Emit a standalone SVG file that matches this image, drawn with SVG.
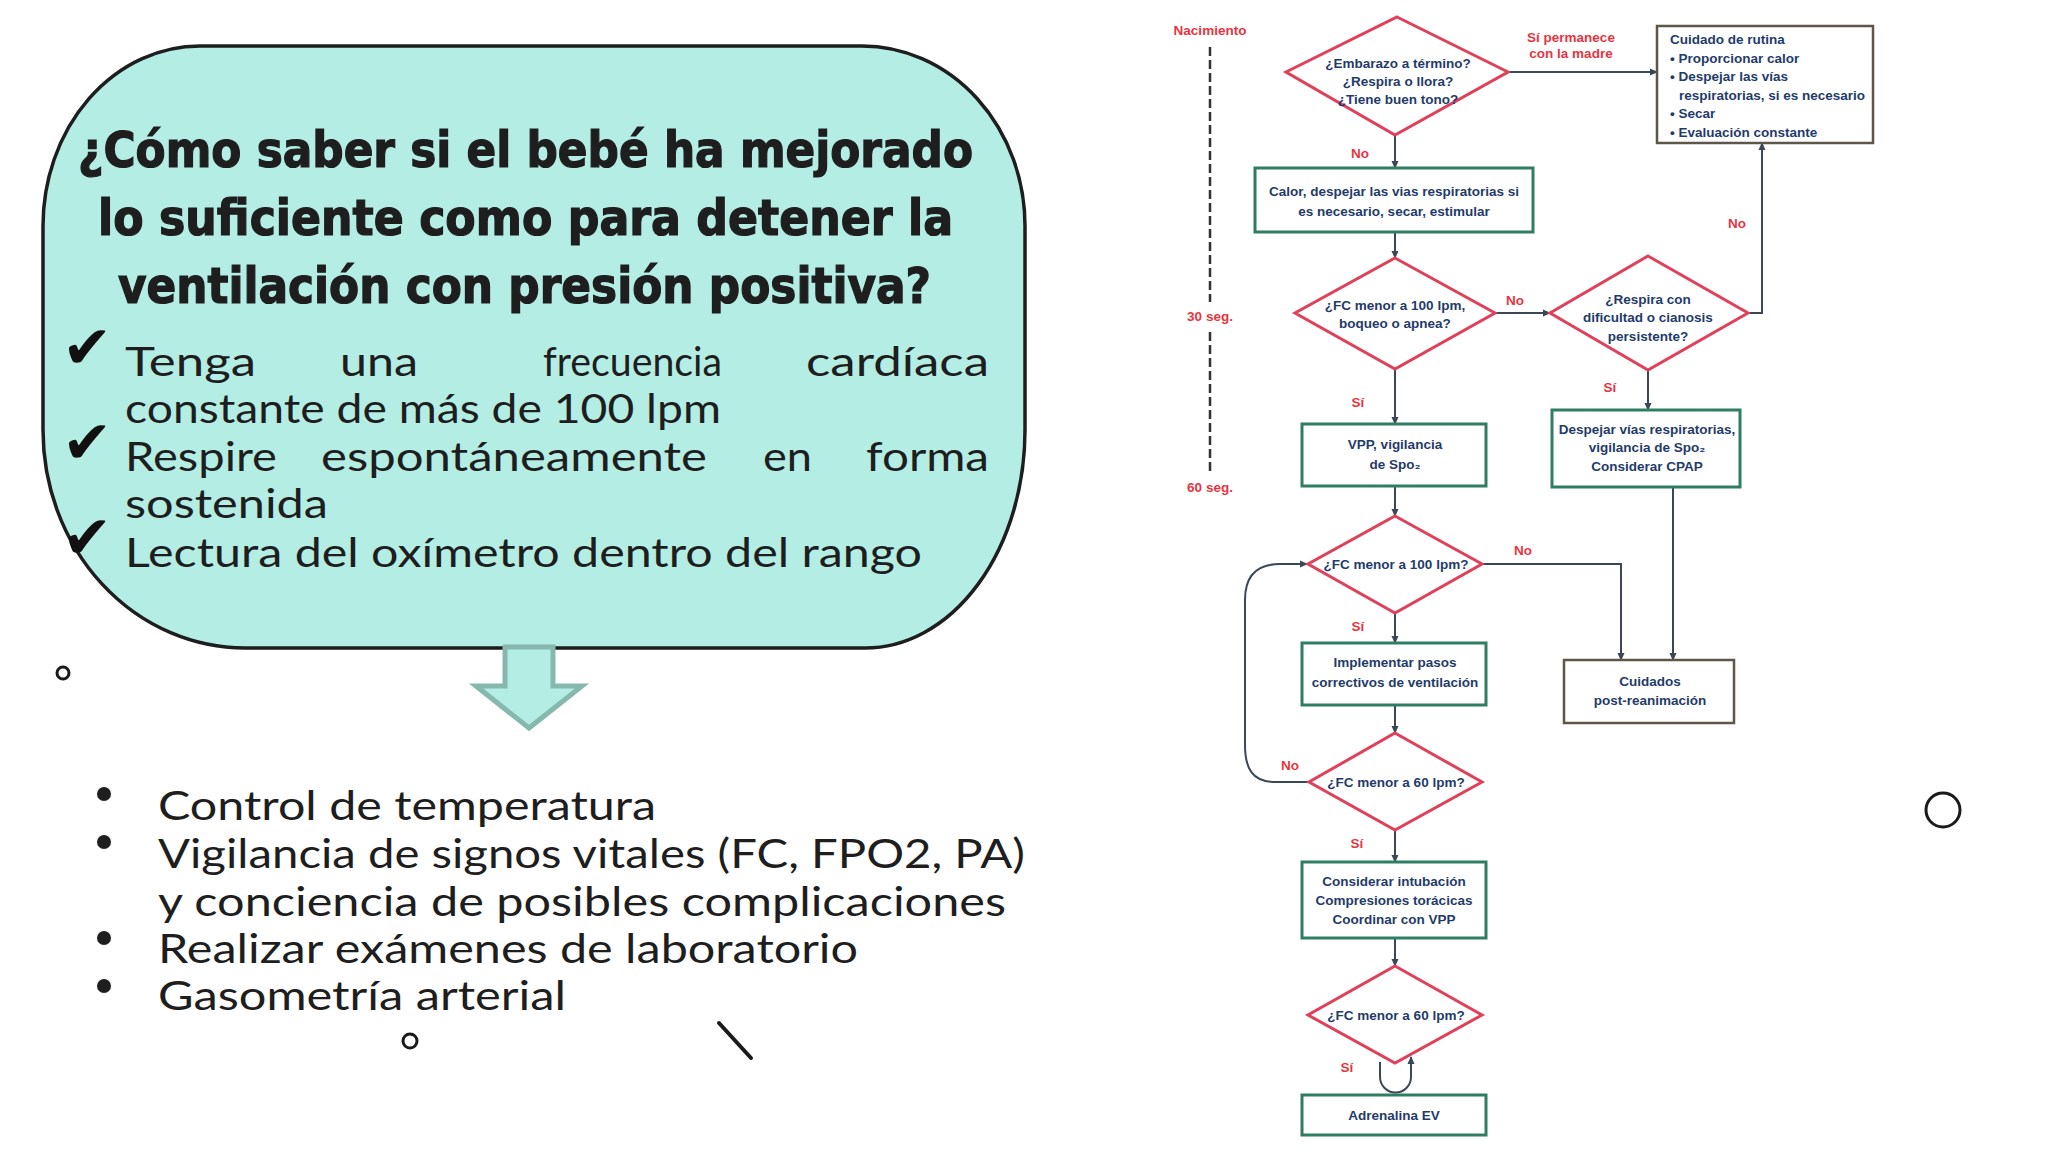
<svg xmlns="http://www.w3.org/2000/svg" width="2048" height="1152" viewBox="0 0 2048 1152">
<defs>
<style>
.title{font-family:"DejaVu Sans Condensed","DejaVu Sans",sans-serif;font-weight:bold;font-stretch:condensed;font-size:50px;fill:#1e1e1e;stroke:#1e1e1e;stroke-width:1.2}
.body{font-family:Lato,"Noto Sans",sans-serif;font-size:41px;fill:#1e1e1e}
.chk{font-family:"DejaVu Sans",sans-serif;font-size:60px;fill:#111}
.dia{fill:#fff;stroke:#e0405a;stroke-width:3}
.box{fill:#fff;stroke:#2f7d62;stroke-width:3}
.box2{fill:#fff;stroke:#5e5648;stroke-width:2.5}
.ft{font-family:"Liberation Sans",Arial,sans-serif;font-weight:bold;font-size:13.5px;fill:#1f3b6b;text-anchor:middle}
.ftl{font-family:"Liberation Sans",Arial,sans-serif;font-weight:bold;font-size:13.5px;fill:#1f3b6b}
.lbl{font-family:"Liberation Sans",Arial,sans-serif;font-weight:bold;font-size:13.5px;fill:#e8343f;text-anchor:middle}
.con{fill:none;stroke:#3b4756;stroke-width:2}
.deco{fill:none;stroke:#1a1a1a;stroke-width:3}
</style>
<marker id="ah" markerUnits="userSpaceOnUse" markerWidth="8" markerHeight="8" refX="7" refY="4" orient="auto">
<path d="M0,0.5 L8,4 L0,7.5 Z" fill="#3b4756"/>
</marker>
</defs>
<rect width="2048" height="1152" fill="#fff"/>

<g id="bubble">
<path d="M200,46 L862,46 A163,180 0 0 1 1025,226 L1025,430 A160,218 0 0 1 865,648 L245,648 A202,218 0 0 1 43,430 L43,226 A157,180 0 0 1 200,46 Z" fill="#b3ede3" stroke="#1e1e1e" stroke-width="3.5"/>
<text class="title" x="78" y="167" textLength="895" lengthAdjust="spacingAndGlyphs">¿Cómo saber si el bebé ha mejorado</text>
<text class="title" x="98" y="235" textLength="855" lengthAdjust="spacingAndGlyphs">lo suficiente como para detener la</text>
<text class="title" x="118" y="303" textLength="813" lengthAdjust="spacingAndGlyphs">ventilación con presión positiva?</text>
<text class="chk" x="62" y="368">✔</text>
<text class="chk" x="62" y="463">✔</text>
<text class="chk" x="62" y="558">✔</text>
<text class="body" x="125" y="376" textLength="131" lengthAdjust="spacingAndGlyphs">Tenga</text>
<text class="body" x="340" y="376" textLength="78" lengthAdjust="spacingAndGlyphs">una</text>
<text class="body" x="543" y="376" textLength="179" lengthAdjust="spacingAndGlyphs">frecuencia</text>
<text class="body" x="806" y="376" textLength="183" lengthAdjust="spacingAndGlyphs">cardíaca</text>
<text class="body" x="125" y="423" textLength="596" lengthAdjust="spacingAndGlyphs">constante de más de 100 lpm</text>
<text class="body" x="125" y="471" textLength="152" lengthAdjust="spacingAndGlyphs">Respire</text>
<text class="body" x="321" y="471" textLength="386" lengthAdjust="spacingAndGlyphs">espontáneamente</text>
<text class="body" x="763" y="471" textLength="49" lengthAdjust="spacingAndGlyphs">en</text>
<text class="body" x="866" y="471" textLength="123" lengthAdjust="spacingAndGlyphs">forma</text>
<text class="body" x="125" y="518" textLength="203" lengthAdjust="spacingAndGlyphs">sostenida</text>
<text class="body" x="125" y="567" textLength="797" lengthAdjust="spacingAndGlyphs">Lectura del oxímetro dentro del rango</text>
</g>

<g id="down-arrow">
<path d="M505,647 L553,647 L553,686 L582,686 L529,728 L476,686 L505,686 Z" fill="#b3ede3" stroke="#86b8ae" stroke-width="5" stroke-linejoin="miter"/>
</g>

<g id="care-list">
<circle cx="104" cy="794" r="7" fill="#1e1e1e"/>
<circle cx="104" cy="842" r="7" fill="#1e1e1e"/>
<circle cx="104" cy="938" r="7" fill="#1e1e1e"/>
<circle cx="104" cy="986" r="7" fill="#1e1e1e"/>
<text class="body" x="158" y="820" textLength="498" lengthAdjust="spacingAndGlyphs">Control de temperatura</text>
<text class="body" x="158" y="868" textLength="867" lengthAdjust="spacingAndGlyphs">Vigilancia de signos vitales (FC, FPO2, PA)</text>
<text class="body" x="158" y="916" textLength="848" lengthAdjust="spacingAndGlyphs">y conciencia de posibles complicaciones</text>
<text class="body" x="158" y="963" textLength="700" lengthAdjust="spacingAndGlyphs">Realizar exámenes de laboratorio</text>
<text class="body" x="158" y="1010" textLength="408" lengthAdjust="spacingAndGlyphs">Gasometría arterial</text>
</g>

<g id="decor">
<circle cx="63" cy="673" r="6" class="deco" stroke-width="2.5"/>
<circle cx="410" cy="1041" r="7" class="deco" stroke-width="2.5"/>
<line x1="719" y1="1023" x2="751" y2="1058" stroke="#1a1a1a" stroke-width="4" stroke-linecap="round"/>
<circle cx="1943" cy="810" r="17" class="deco"/>
</g>

<g id="timeline">
<text class="lbl" x="1210" y="35" font-size="13">Nacimiento</text>
<line x1="1210" y1="47" x2="1210" y2="302" stroke="#333" stroke-width="2.5" stroke-dasharray="9,4"/>
<text class="lbl" x="1210" y="321" font-size="13">30 seg.</text>
<line x1="1210" y1="332" x2="1210" y2="472" stroke="#333" stroke-width="2.5" stroke-dasharray="9,4"/>
<text class="lbl" x="1210" y="492" font-size="13">60 seg.</text>
</g>

<g id="connectors">
<line class="con" x1="1395" y1="135" x2="1395" y2="168" marker-end="url(#ah)"/>
<line class="con" x1="1508" y1="72" x2="1657" y2="72" marker-end="url(#ah)"/>
<line class="con" x1="1395" y1="232" x2="1395" y2="258" marker-end="url(#ah)"/>
<line class="con" x1="1495" y1="313" x2="1550" y2="313" marker-end="url(#ah)"/>
<line class="con" x1="1395" y1="369" x2="1395" y2="424" marker-end="url(#ah)"/>
<path class="con" d="M1748,313 L1762,313 L1762,143" marker-end="url(#ah)"/>
<line class="con" x1="1648" y1="370" x2="1648" y2="410" marker-end="url(#ah)"/>
<line class="con" x1="1395" y1="486" x2="1395" y2="516" marker-end="url(#ah)"/>
<path class="con" d="M1482,564 L1621,564 L1621,660" marker-end="url(#ah)"/>
<line class="con" x1="1673" y1="487" x2="1673" y2="660" marker-end="url(#ah)"/>
<line class="con" x1="1395" y1="613" x2="1395" y2="643" marker-end="url(#ah)"/>
<line class="con" x1="1395" y1="705" x2="1395" y2="733" marker-end="url(#ah)"/>
<path class="con" d="M1309,782 L1275,782 C1252,782 1245,768 1245,745 L1245,600 C1245,576 1256,564 1280,564 L1307,564" marker-end="url(#ah)"/>
<line class="con" x1="1395" y1="830" x2="1395" y2="862" marker-end="url(#ah)"/>
<line class="con" x1="1395" y1="938" x2="1395" y2="966" marker-end="url(#ah)"/>
<path class="con" d="M1380,1062 L1380,1077 A15.5,15.5 0 0 0 1411,1077 L1411,1057" marker-end="url(#ah)"/>
<text class="lbl" x="1360" y="158">No</text>
<text class="lbl" x="1571" y="42">Sí permanece</text>
<text class="lbl" x="1571" y="58">con la madre</text>
<text class="lbl" x="1737" y="228">No</text>
<text class="lbl" x="1515" y="305">No</text>
<text class="lbl" x="1358" y="407">Sí</text>
<text class="lbl" x="1610" y="392">Sí</text>
<text class="lbl" x="1523" y="555">No</text>
<text class="lbl" x="1358" y="631">Sí</text>
<text class="lbl" x="1290" y="770">No</text>
<text class="lbl" x="1357" y="848">Sí</text>
<text class="lbl" x="1347" y="1072">Sí</text>
</g>

<g id="d1">
<polygon class="dia" points="1397,17 1508,72 1395,135 1286,72"/>
<text class="ft" x="1398" y="68">¿Embarazo a término?</text>
<text class="ft" x="1398" y="86">¿Respira o llora?</text>
<text class="ft" x="1398" y="104">¿Tiene buen tono?</text>
</g>
<g id="rutina">
<rect class="box2" x="1657" y="26" width="216" height="117"/>
<text class="ftl" x="1670" y="44">Cuidado de rutina</text>
<text class="ftl" x="1670" y="62.5">• Proporcionar calor</text>
<text class="ftl" x="1670" y="81">• Despejar las vías</text>
<text class="ftl" x="1679" y="99.5">respiratorias, si es necesario</text>
<text class="ftl" x="1670" y="118">• Secar</text>
<text class="ftl" x="1670" y="136.5">• Evaluación constante</text>
</g>
<g id="calor">
<rect class="box" x="1255" y="168" width="278" height="64"/>
<text class="ft" x="1394" y="196">Calor, despejar las vias respiratorias si</text>
<text class="ft" x="1394" y="216">es necesario, secar, estimular</text>
</g>
<g id="d2">
<polygon class="dia" points="1395,258 1495,313 1395,369 1295,313"/>
<text class="ft" x="1395" y="310">¿FC menor a 100 lpm,</text>
<text class="ft" x="1395" y="328">boqueo o apnea?</text>
</g>
<g id="d3">
<polygon class="dia" points="1648,256 1748,313 1648,370 1550,313"/>
<text class="ft" x="1648" y="304">¿Respira con</text>
<text class="ft" x="1648" y="322">dificultad o cianosis</text>
<text class="ft" x="1648" y="341">persistente?</text>
</g>
<g id="vpp">
<rect class="box" x="1302" y="424" width="184" height="62"/>
<text class="ft" x="1395" y="449">VPP, vigilancia</text>
<text class="ft" x="1395" y="469">de Spo₂</text>
</g>
<g id="despejar">
<rect class="box" x="1552" y="410" width="188" height="77"/>
<text class="ft" x="1647" y="434">Despejar vías respiratorias,</text>
<text class="ft" x="1647" y="452">vigilancia de Spo₂</text>
<text class="ft" x="1647" y="471">Considerar CPAP</text>
</g>
<g id="d4">
<polygon class="dia" points="1395,516 1482,564 1395,613 1308,564"/>
<text class="ft" x="1396" y="569">¿FC menor a 100 lpm?</text>
</g>
<g id="post">
<rect class="box2" x="1564" y="660" width="170" height="63"/>
<text class="ft" x="1650" y="686">Cuidados</text>
<text class="ft" x="1650" y="705">post-reanimación</text>
</g>
<g id="implementar">
<rect class="box" x="1302" y="643" width="184" height="62"/>
<text class="ft" x="1395" y="667">Implementar pasos</text>
<text class="ft" x="1395" y="687">correctivos  de ventilación</text>
</g>
<g id="d5">
<polygon class="dia" points="1395,733 1482,782 1395,830 1309,782"/>
<text class="ft" x="1396" y="787">¿FC menor a 60 lpm?</text>
</g>
<g id="considerar">
<rect class="box" x="1302" y="862" width="184" height="76"/>
<text class="ft" x="1394" y="886">Considerar intubación</text>
<text class="ft" x="1394" y="905">Compresiones torácicas</text>
<text class="ft" x="1394" y="924">Coordinar con VPP</text>
</g>
<g id="d6">
<polygon class="dia" points="1395,966 1482,1015 1395,1063 1308,1015"/>
<text class="ft" x="1396" y="1020">¿FC menor a 60 lpm?</text>
</g>
<g id="adrenalina">
<rect class="box" x="1302" y="1095" width="184" height="40"/>
<text class="ft" x="1394" y="1120">Adrenalina EV</text>
</g>
</svg>
